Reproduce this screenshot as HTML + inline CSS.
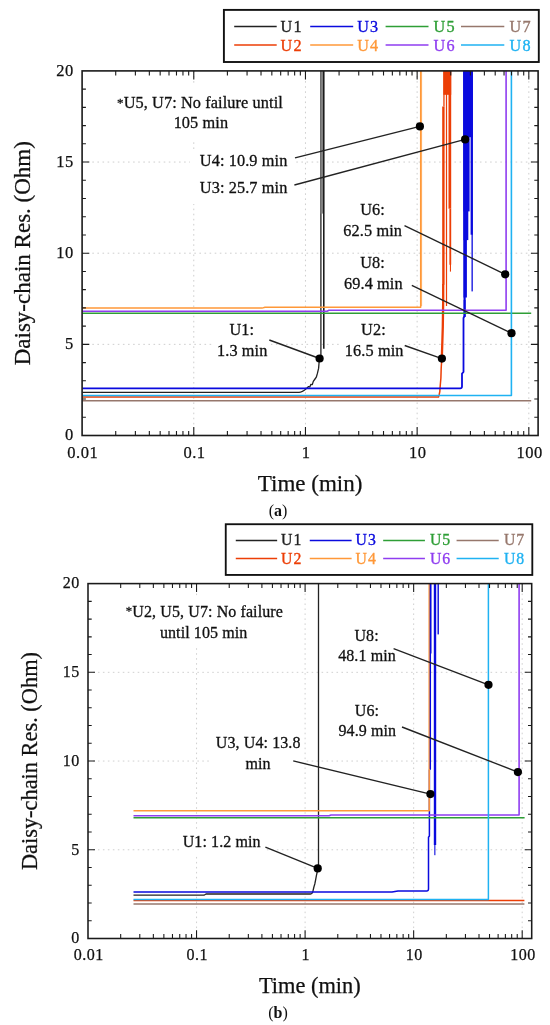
<!DOCTYPE html>
<html lang="en"><head><meta charset="utf-8"><title>Daisy-chain resistance vs time</title>
<style>html,body{margin:0;padding:0;background:#fff}svg{display:block}</style></head>
<body>
<svg width="550" height="1025" viewBox="0 0 550 1025">
<rect width="550" height="1025" fill="#fff"/>
<g id="chart-a">
<path d="M193.78,70.90V435.50M305.46,70.90V435.50M417.14,70.90V435.50M528.82,70.90V435.50M82.10,344.35H538.10M82.10,253.20H538.10M82.10,162.05H538.10" fill="none" stroke="#cecece" stroke-width="1.00" stroke-dasharray="1.60 3.50"/>
<rect x="112" y="86" width="178" height="54" fill="#fff"/>
<rect x="190" y="152" width="104" height="52" fill="#fff"/>
<rect x="340" y="200" width="64" height="43" fill="#fff"/>
<rect x="340" y="254" width="66" height="42" fill="#fff"/>
<rect x="214" y="321" width="57" height="41" fill="#fff"/>
<rect x="342" y="321" width="63" height="41" fill="#fff"/>
<path d="M82.4,392.3H299C303,392.3 305.5,389 308.6,386.6L309.8,387L310.8,384.4L312.3,384.6L313.3,381.4L315,379L316.3,377.2L317.4,373.4L318.6,368.4L319.4,358.5L320.9,356V70.9" fill="none" stroke="#222222" stroke-width="1.3" stroke-linejoin="round" />
<rect x="320.50" y="70.90" width="2.70" height="142.70" fill="#808080"/>
<path d="M323.8,70.9V348.8" fill="none" stroke="#111" stroke-width="1.5" stroke-linejoin="round" />
<path d="M82.4,397.1H438.5L439.2,394.5L439.8,391.6L440.2,386L440.9,378L441.2,368L441.8,358.8" fill="none" stroke="#ec3e06" stroke-width="1.5" stroke-linejoin="round" />
<path d="M441.8,358.8L442.4,340L442.8,326.6L443.2,300V284" fill="none" stroke="#ec3e06" stroke-width="2.3" stroke-linejoin="round" />
<rect x="442.20" y="106.50" width="2.40" height="178.00" fill="#ec3e06"/>
<rect x="443.30" y="70.90" width="1.30" height="35.60" fill="#ec3e06"/>
<rect x="445.90" y="70.90" width="1.20" height="235.10" fill="#ec3e06"/>
<rect x="449.90" y="264.00" width="1.10" height="7.60" fill="#ec3e06"/>
<rect x="449.40" y="208.70" width="1.80" height="56.00" fill="#ec3e06"/>
<rect x="448.50" y="70.90" width="2.70" height="137.80" fill="#ec3e06"/>
<rect x="443.40" y="70.90" width="7.80" height="23.90" fill="#ec3e06"/>
<path d="M82.4,388.4H460.3Q461.9,388.4 462,386.5V373.6L463.5,372V318L464.6,316V300" fill="none" stroke="#0a0ade" stroke-width="1.8" stroke-linejoin="round" />
<rect x="463.50" y="70.90" width="2.20" height="246.10" fill="#0a0ade"/>
<rect x="463.50" y="70.90" width="3.40" height="226.60" fill="#0a0ade"/>
<rect x="463.50" y="70.90" width="4.80" height="169.20" fill="#0a0ade"/>
<rect x="463.50" y="70.90" width="6.10" height="140.50" fill="#0a0ade"/>
<rect x="463.60" y="70.90" width="9.00" height="66.30" fill="#0a0ade"/>
<rect x="471.50" y="70.90" width="1.30" height="220.50" fill="#0a0ade"/>
<rect x="470.60" y="70.90" width="2.20" height="163.80" fill="#0a0ade"/>
<path d="M82.4,308.1H262L265,307.3H420.7V70.9" fill="none" stroke="#ff9838" stroke-width="1.5" stroke-linejoin="round" />
<path d="M421.6,70.9V306" fill="none" stroke="#ff9838" stroke-width="0.7" stroke-linejoin="round" />
<path d="M82.4,313.3H531.2" fill="none" stroke="#2e9e36" stroke-width="1.5" stroke-linejoin="round" />
<path d="M82.4,311.3H327L329,310.3H506.1V70.9" fill="none" stroke="#8f3df0" stroke-width="1.6" stroke-linejoin="round" />
<path d="M82.4,400.8H531.2" fill="none" stroke="#96776c" stroke-width="1.5" stroke-linejoin="round" />
<path d="M82.4,395.5H511.4V70.9" fill="none" stroke="#1fb2f2" stroke-width="1.6" stroke-linejoin="round" />
<rect x="82.10" y="70.90" width="456.00" height="364.60" fill="none" stroke="#1a1a1a" stroke-width="1.60"/>
<path d="M115.72,435.50v-4.50M115.72,70.90v4.50M135.38,435.50v-4.50M135.38,70.90v4.50M149.34,435.50v-4.50M149.34,70.90v4.50M160.16,435.50v-4.50M160.16,70.90v4.50M169.00,435.50v-4.50M169.00,70.90v4.50M176.48,435.50v-4.50M176.48,70.90v4.50M182.96,435.50v-4.50M182.96,70.90v4.50M188.67,435.50v-4.50M188.67,70.90v4.50M193.78,435.50v-8.60M193.78,70.90v8.60M227.40,435.50v-4.50M227.40,70.90v4.50M247.06,435.50v-4.50M247.06,70.90v4.50M261.02,435.50v-4.50M261.02,70.90v4.50M271.84,435.50v-4.50M271.84,70.90v4.50M280.68,435.50v-4.50M280.68,70.90v4.50M288.16,435.50v-4.50M288.16,70.90v4.50M294.64,435.50v-4.50M294.64,70.90v4.50M300.35,435.50v-4.50M300.35,70.90v4.50M305.46,435.50v-8.60M305.46,70.90v8.60M339.08,435.50v-4.50M339.08,70.90v4.50M358.74,435.50v-4.50M358.74,70.90v4.50M372.70,435.50v-4.50M372.70,70.90v4.50M383.52,435.50v-4.50M383.52,70.90v4.50M392.36,435.50v-4.50M392.36,70.90v4.50M399.84,435.50v-4.50M399.84,70.90v4.50M406.32,435.50v-4.50M406.32,70.90v4.50M412.03,435.50v-4.50M412.03,70.90v4.50M417.14,435.50v-8.60M417.14,70.90v8.60M450.76,435.50v-4.50M450.76,70.90v4.50M470.42,435.50v-4.50M470.42,70.90v4.50M484.38,435.50v-4.50M484.38,70.90v4.50M495.20,435.50v-4.50M495.20,70.90v4.50M504.04,435.50v-4.50M504.04,70.90v4.50M511.52,435.50v-4.50M511.52,70.90v4.50M518.00,435.50v-4.50M518.00,70.90v4.50M523.71,435.50v-4.50M523.71,70.90v4.50M528.82,435.50v-8.60M528.82,70.90v8.60M82.10,417.27h3.80M538.10,417.27h-3.80M82.10,399.04h3.80M538.10,399.04h-3.80M82.10,380.81h3.80M538.10,380.81h-3.80M82.10,362.58h3.80M538.10,362.58h-3.80M82.10,344.35h7.20M538.10,344.35h-7.20M82.10,326.12h3.80M538.10,326.12h-3.80M82.10,307.89h3.80M538.10,307.89h-3.80M82.10,289.66h3.80M538.10,289.66h-3.80M82.10,271.43h3.80M538.10,271.43h-3.80M82.10,253.20h7.20M538.10,253.20h-7.20M82.10,234.97h3.80M538.10,234.97h-3.80M82.10,216.74h3.80M538.10,216.74h-3.80M82.10,198.51h3.80M538.10,198.51h-3.80M82.10,180.28h3.80M538.10,180.28h-3.80M82.10,162.05h7.20M538.10,162.05h-7.20M82.10,143.82h3.80M538.10,143.82h-3.80M82.10,125.59h3.80M538.10,125.59h-3.80M82.10,107.36h3.80M538.10,107.36h-3.80M82.10,89.13h3.80M538.10,89.13h-3.80" fill="none" stroke="#1a1a1a" stroke-width="1.10"/>
<g font-family='"Liberation Serif", "Times New Roman", serif' font-size="16.50" fill="#111" stroke="#111" stroke-width="0.25" letter-spacing="0.50">
<text x="82.80" y="458.00" text-anchor="middle">0.01</text>
<text x="194.48" y="458.00" text-anchor="middle">0.1</text>
<text x="306.16" y="458.00" text-anchor="middle">1</text>
<text x="417.84" y="458.00" text-anchor="middle">10</text>
<text x="529.52" y="458.00" text-anchor="middle">100</text>
<text x="73.70" y="440.40" text-anchor="end">0</text>
<text x="73.70" y="349.25" text-anchor="end">5</text>
<text x="73.70" y="258.10" text-anchor="end">10</text>
<text x="73.70" y="166.95" text-anchor="end">15</text>
<text x="73.70" y="75.80" text-anchor="end">20</text>
</g>
<text x="310.10" y="491.00" text-anchor="middle" font-family='"Liberation Serif", "Times New Roman", serif' font-size="23.00" fill="#111" stroke="#111" stroke-width="0.25">Time (min)</text>
<text transform="translate(29.80,253.20) rotate(-90)" text-anchor="middle" font-family='"Liberation Serif", "Times New Roman", serif' font-size="23.00" fill="#111" stroke="#111" stroke-width="0.25">Daisy-chain Res. (Ohm)</text>
<rect x="223.90" y="9.90" width="314.90" height="52.10" fill="#fff" stroke="#111" stroke-width="1.90"/>
<g font-family='"Liberation Serif", "Times New Roman", serif' font-size="16.20" letter-spacing="1.10" stroke-width="0.35">
<path d="M234.20,26.60H276.70" stroke="#222222" stroke-width="1.50"/>
<text x="280.60" y="31.60" fill="#222222" stroke="#222222">U1</text>
<path d="M234.20,45.10H276.70" stroke="#ec3e06" stroke-width="1.50"/>
<text x="280.60" y="51.20" fill="#ec3e06" stroke="#ec3e06">U2</text>
<path d="M310.20,26.60H353.20" stroke="#0a0ade" stroke-width="1.50"/>
<text x="357.20" y="31.60" fill="#0a0ade" stroke="#0a0ade">U3</text>
<path d="M310.20,45.10H353.20" stroke="#ff9838" stroke-width="1.50"/>
<text x="357.20" y="51.20" fill="#ff9838" stroke="#ff9838">U4</text>
<path d="M385.60,26.60H428.50" stroke="#2e9e36" stroke-width="1.50"/>
<text x="433.60" y="31.60" fill="#2e9e36" stroke="#2e9e36">U5</text>
<path d="M385.60,45.10H428.50" stroke="#8f3df0" stroke-width="1.50"/>
<text x="433.60" y="51.20" fill="#8f3df0" stroke="#8f3df0">U6</text>
<path d="M461.00,26.60H504.30" stroke="#96776c" stroke-width="1.50"/>
<text x="509.60" y="31.60" fill="#96776c" stroke="#96776c">U7</text>
<path d="M461.00,45.10H504.30" stroke="#1fb2f2" stroke-width="1.50"/>
<text x="509.60" y="51.20" fill="#1fb2f2" stroke="#1fb2f2">U8</text>
</g>
<g font-family='"Liberation Serif", "Times New Roman", serif' font-size="16.3" fill="#111" stroke="#111" stroke-width="0.3" letter-spacing="0.1">
<text x="200" y="108" text-anchor="middle"><tspan font-size="13.0" dy="-1.5">*</tspan><tspan dy="1.5">U5, U7: No failure until</tspan></text>
<text x="200.9" y="128" text-anchor="middle">105 min</text>
<text x="243.6" y="165.5" text-anchor="middle">U4: 10.9 min</text>
<text x="243.6" y="192.8" text-anchor="middle">U3: 25.7 min</text>
<text x="372.5" y="214.7" text-anchor="middle">U6:</text>
<text x="372.7" y="235.5" text-anchor="middle">62.5 min</text>
<text x="372.5" y="268.2" text-anchor="middle">U8:</text>
<text x="373.4" y="288.9" text-anchor="middle">69.4 min</text>
<text x="241.8" y="335.3" text-anchor="middle">U1:</text>
<text x="242.2" y="355.6" text-anchor="middle">1.3 min</text>
<text x="373.4" y="335.3" text-anchor="middle">U2:</text>
<text x="374.2" y="355.6" text-anchor="middle">16.5 min</text>
</g>
<path d="M295,157.9L419.9,126.4" stroke="#222" stroke-width="1.35" fill="none"/>
<circle cx="419.9" cy="126.4" r="4.1" fill="#000"/>
<path d="M294.4,185L465.1,139.4" stroke="#222" stroke-width="1.35" fill="none"/>
<circle cx="465.1" cy="139.4" r="4.1" fill="#000"/>
<path d="M404.5,225.6L505.2,274.3" stroke="#222" stroke-width="1.35" fill="none"/>
<circle cx="505.2" cy="274.3" r="4.1" fill="#000"/>
<path d="M411.8,285.3L511.5,333.2" stroke="#222" stroke-width="1.35" fill="none"/>
<circle cx="511.5" cy="333.2" r="4.1" fill="#000"/>
<path d="M269.3,340L319.6,358.5" stroke="#222" stroke-width="1.35" fill="none"/>
<circle cx="319.6" cy="358.5" r="4.1" fill="#000"/>
<path d="M404.7,345.5L441.9,358.6" stroke="#222" stroke-width="1.35" fill="none"/>
<circle cx="441.9" cy="358.6" r="4.1" fill="#000"/>
</g>
<g id="chart-b">
<path d="M196.55,583.60V938.50M305.10,583.60V938.50M413.65,583.60V938.50M522.20,583.60V938.50M88.00,849.77H531.70M88.00,761.05H531.70M88.00,672.33H531.70" fill="none" stroke="#cecece" stroke-width="0.97" stroke-dasharray="1.56 3.41"/>
<rect x="120" y="596" width="170" height="50" fill="#fff"/>
<rect x="334" y="626" width="64" height="42" fill="#fff"/>
<rect x="334" y="701" width="66" height="42" fill="#fff"/>
<rect x="212" y="733" width="92" height="43" fill="#fff"/>
<rect x="180" y="832" width="84" height="22" fill="#fff"/>
<path d="M133.5,895.2H204L206,894H310.5Q312.6,894 313.2,890L313.9,887L314.8,884L315.6,880L316.4,875.6L317.2,872L317.7,868.4L318.5,864V583.6" fill="none" stroke="#222222" stroke-width="1.3" stroke-linejoin="round" />
<path d="M133.5,900.4H524.4" fill="none" stroke="#ec3e06" stroke-width="1.5" stroke-linejoin="round" />
<path d="M133.5,892H392L398,891H426.8Q428.4,891 428.5,889V837.3L429.4,836V770L430.3,769V583.6" fill="none" stroke="#0a0ade" stroke-width="1.5" stroke-linejoin="round" />
<rect x="433.80" y="583.60" width="2.40" height="261.40" fill="#0a0ade"/>
<rect x="434.30" y="845.00" width="1.10" height="10.20" fill="#0a0ade"/>
<rect x="437.50" y="583.60" width="1.40" height="50.80" fill="#0a0ade"/>
<path d="M133.5,810.7H429.2V583.6" fill="none" stroke="#ff9838" stroke-width="1.5" stroke-linejoin="round" />
<rect x="429.70" y="583.60" width="1.80" height="69.90" fill="#0a0ade"/>
<rect x="429.70" y="653.50" width="0.90" height="115.50" fill="#0a0ade"/>
<path d="M133.5,817.8H524.6" fill="none" stroke="#2e9e36" stroke-width="1.5" stroke-linejoin="round" />
<path d="M133.5,815.8H329L331,815H519.1V583.6" fill="none" stroke="#8f3df0" stroke-width="1.6" stroke-linejoin="round" />
<path d="M133.5,904H524.4" fill="none" stroke="#96776c" stroke-width="1.5" stroke-linejoin="round" />
<path d="M133.5,899.4H488.4V583.6" fill="none" stroke="#1fb2f2" stroke-width="1.5" stroke-linejoin="round" />
<rect x="88.00" y="583.60" width="443.70" height="354.90" fill="none" stroke="#1a1a1a" stroke-width="1.56"/>
<path d="M120.68,938.50v-4.38M120.68,583.60v4.38M139.79,938.50v-4.38M139.79,583.60v4.38M153.35,938.50v-4.38M153.35,583.60v4.38M163.87,938.50v-4.38M163.87,583.60v4.38M172.47,938.50v-4.38M172.47,583.60v4.38M179.74,938.50v-4.38M179.74,583.60v4.38M186.03,938.50v-4.38M186.03,583.60v4.38M191.58,938.50v-4.38M191.58,583.60v4.38M196.55,938.50v-8.37M196.55,583.60v8.37M229.23,938.50v-4.38M229.23,583.60v4.38M248.34,938.50v-4.38M248.34,583.60v4.38M261.90,938.50v-4.38M261.90,583.60v4.38M272.42,938.50v-4.38M272.42,583.60v4.38M281.02,938.50v-4.38M281.02,583.60v4.38M288.29,938.50v-4.38M288.29,583.60v4.38M294.58,938.50v-4.38M294.58,583.60v4.38M300.13,938.50v-4.38M300.13,583.60v4.38M305.10,938.50v-8.37M305.10,583.60v8.37M337.78,938.50v-4.38M337.78,583.60v4.38M356.89,938.50v-4.38M356.89,583.60v4.38M370.45,938.50v-4.38M370.45,583.60v4.38M380.97,938.50v-4.38M380.97,583.60v4.38M389.57,938.50v-4.38M389.57,583.60v4.38M396.84,938.50v-4.38M396.84,583.60v4.38M403.13,938.50v-4.38M403.13,583.60v4.38M408.68,938.50v-4.38M408.68,583.60v4.38M413.65,938.50v-8.37M413.65,583.60v8.37M446.33,938.50v-4.38M446.33,583.60v4.38M465.44,938.50v-4.38M465.44,583.60v4.38M479.00,938.50v-4.38M479.00,583.60v4.38M489.52,938.50v-4.38M489.52,583.60v4.38M498.12,938.50v-4.38M498.12,583.60v4.38M505.39,938.50v-4.38M505.39,583.60v4.38M511.68,938.50v-4.38M511.68,583.60v4.38M517.23,938.50v-4.38M517.23,583.60v4.38M522.20,938.50v-8.37M522.20,583.60v8.37M88.00,920.75h3.70M531.70,920.75h-3.70M88.00,903.01h3.70M531.70,903.01h-3.70M88.00,885.26h3.70M531.70,885.26h-3.70M88.00,867.52h3.70M531.70,867.52h-3.70M88.00,849.77h7.01M531.70,849.77h-7.01M88.00,832.03h3.70M531.70,832.03h-3.70M88.00,814.29h3.70M531.70,814.29h-3.70M88.00,796.54h3.70M531.70,796.54h-3.70M88.00,778.80h3.70M531.70,778.80h-3.70M88.00,761.05h7.01M531.70,761.05h-7.01M88.00,743.31h3.70M531.70,743.31h-3.70M88.00,725.56h3.70M531.70,725.56h-3.70M88.00,707.82h3.70M531.70,707.82h-3.70M88.00,690.07h3.70M531.70,690.07h-3.70M88.00,672.33h7.01M531.70,672.33h-7.01M88.00,654.58h3.70M531.70,654.58h-3.70M88.00,636.84h3.70M531.70,636.84h-3.70M88.00,619.09h3.70M531.70,619.09h-3.70M88.00,601.35h3.70M531.70,601.35h-3.70" fill="none" stroke="#1a1a1a" stroke-width="1.07"/>
<g font-family='"Liberation Serif", "Times New Roman", serif' font-size="16.06" fill="#111" stroke="#111" stroke-width="0.25" letter-spacing="0.49">
<text x="88.70" y="960.40" text-anchor="middle">0.01</text>
<text x="197.25" y="960.40" text-anchor="middle">0.1</text>
<text x="305.80" y="960.40" text-anchor="middle">1</text>
<text x="414.35" y="960.40" text-anchor="middle">10</text>
<text x="522.90" y="960.40" text-anchor="middle">100</text>
<text x="79.82" y="943.27" text-anchor="end">0</text>
<text x="79.82" y="854.55" text-anchor="end">5</text>
<text x="79.82" y="765.82" text-anchor="end">10</text>
<text x="79.82" y="677.10" text-anchor="end">15</text>
<text x="79.82" y="588.37" text-anchor="end">20</text>
</g>
<text x="309.85" y="992.53" text-anchor="middle" font-family='"Liberation Serif", "Times New Roman", serif' font-size="22.39" fill="#111" stroke="#111" stroke-width="0.25">Time (min)</text>
<text transform="translate(37.09,761.05) rotate(-90)" text-anchor="middle" font-family='"Liberation Serif", "Times New Roman", serif' font-size="22.39" fill="#111" stroke="#111" stroke-width="0.25">Daisy-chain Res. (Ohm)</text>
<rect x="225.75" y="524.22" width="306.56" height="50.72" fill="#fff" stroke="#111" stroke-width="1.85"/>
<g font-family='"Liberation Serif", "Times New Roman", serif' font-size="15.77" letter-spacing="1.07" stroke-width="0.35">
<path d="M235.78,540.47H277.15" stroke="#222222" stroke-width="1.46"/>
<text x="280.95" y="545.34" fill="#222222" stroke="#222222">U1</text>
<path d="M235.78,558.48H277.15" stroke="#ec3e06" stroke-width="1.46"/>
<text x="280.95" y="564.42" fill="#ec3e06" stroke="#ec3e06">U2</text>
<path d="M309.76,540.47H351.62" stroke="#0a0ade" stroke-width="1.46"/>
<text x="355.52" y="545.34" fill="#0a0ade" stroke="#0a0ade">U3</text>
<path d="M309.76,558.48H351.62" stroke="#ff9838" stroke-width="1.46"/>
<text x="355.52" y="564.42" fill="#ff9838" stroke="#ff9838">U4</text>
<path d="M383.17,540.47H424.93" stroke="#2e9e36" stroke-width="1.46"/>
<text x="429.89" y="545.34" fill="#2e9e36" stroke="#2e9e36">U5</text>
<path d="M383.17,558.48H424.93" stroke="#8f3df0" stroke-width="1.46"/>
<text x="429.89" y="564.42" fill="#8f3df0" stroke="#8f3df0">U6</text>
<path d="M456.57,540.47H498.72" stroke="#96776c" stroke-width="1.46"/>
<text x="503.88" y="545.34" fill="#96776c" stroke="#96776c">U7</text>
<path d="M456.57,558.48H498.72" stroke="#1fb2f2" stroke-width="1.46"/>
<text x="503.88" y="564.42" fill="#1fb2f2" stroke="#1fb2f2">U8</text>
</g>
<g font-family='"Liberation Serif", "Times New Roman", serif' font-size="16" fill="#111" stroke="#111" stroke-width="0.3" letter-spacing="0.1">
<text x="204.4" y="616.7" text-anchor="middle"><tspan font-size="12.8" dy="-1.5">*</tspan><tspan dy="1.5">U2, U5, U7: No failure</tspan></text>
<text x="203.7" y="637.6" text-anchor="middle">until 105 min</text>
<text x="366.6" y="640.6" text-anchor="middle">U8:</text>
<text x="367" y="661" text-anchor="middle">48.1 min</text>
<text x="367" y="715.6" text-anchor="middle">U6:</text>
<text x="367.3" y="736" text-anchor="middle">94.9 min</text>
<text x="258.2" y="748.2" text-anchor="middle">U3, U4: 13.8</text>
<text x="258" y="768.6" text-anchor="middle">min</text>
<text x="221.7" y="847.2" text-anchor="middle">U1: 1.2 min</text>
</g>
<path d="M393.6,648.6L488.5,684.8" stroke="#222" stroke-width="1.35" fill="none"/>
<circle cx="488.5" cy="684.8" r="4.1" fill="#000"/>
<path d="M402,727L517.9,772.1" stroke="#222" stroke-width="1.35" fill="none"/>
<circle cx="517.9" cy="772.1" r="4.1" fill="#000"/>
<path d="M293.2,760.9L430.4,794.1" stroke="#222" stroke-width="1.35" fill="none"/>
<circle cx="430.4" cy="794.1" r="4.1" fill="#000"/>
<path d="M265.4,847.2L317.7,868.4" stroke="#222" stroke-width="1.35" fill="none"/>
<circle cx="317.7" cy="868.4" r="4.1" fill="#000"/>
</g>
<text x="278" y="516.2" text-anchor="middle" font-family='"Liberation Serif", "Times New Roman", serif' font-size="16" fill="#111">(<tspan font-weight="bold">a</tspan>)</text>
<text x="278" y="1017.5" text-anchor="middle" font-family='"Liberation Serif", "Times New Roman", serif' font-size="16" fill="#111">(<tspan font-weight="bold">b</tspan>)</text>
</svg>
</body></html>
